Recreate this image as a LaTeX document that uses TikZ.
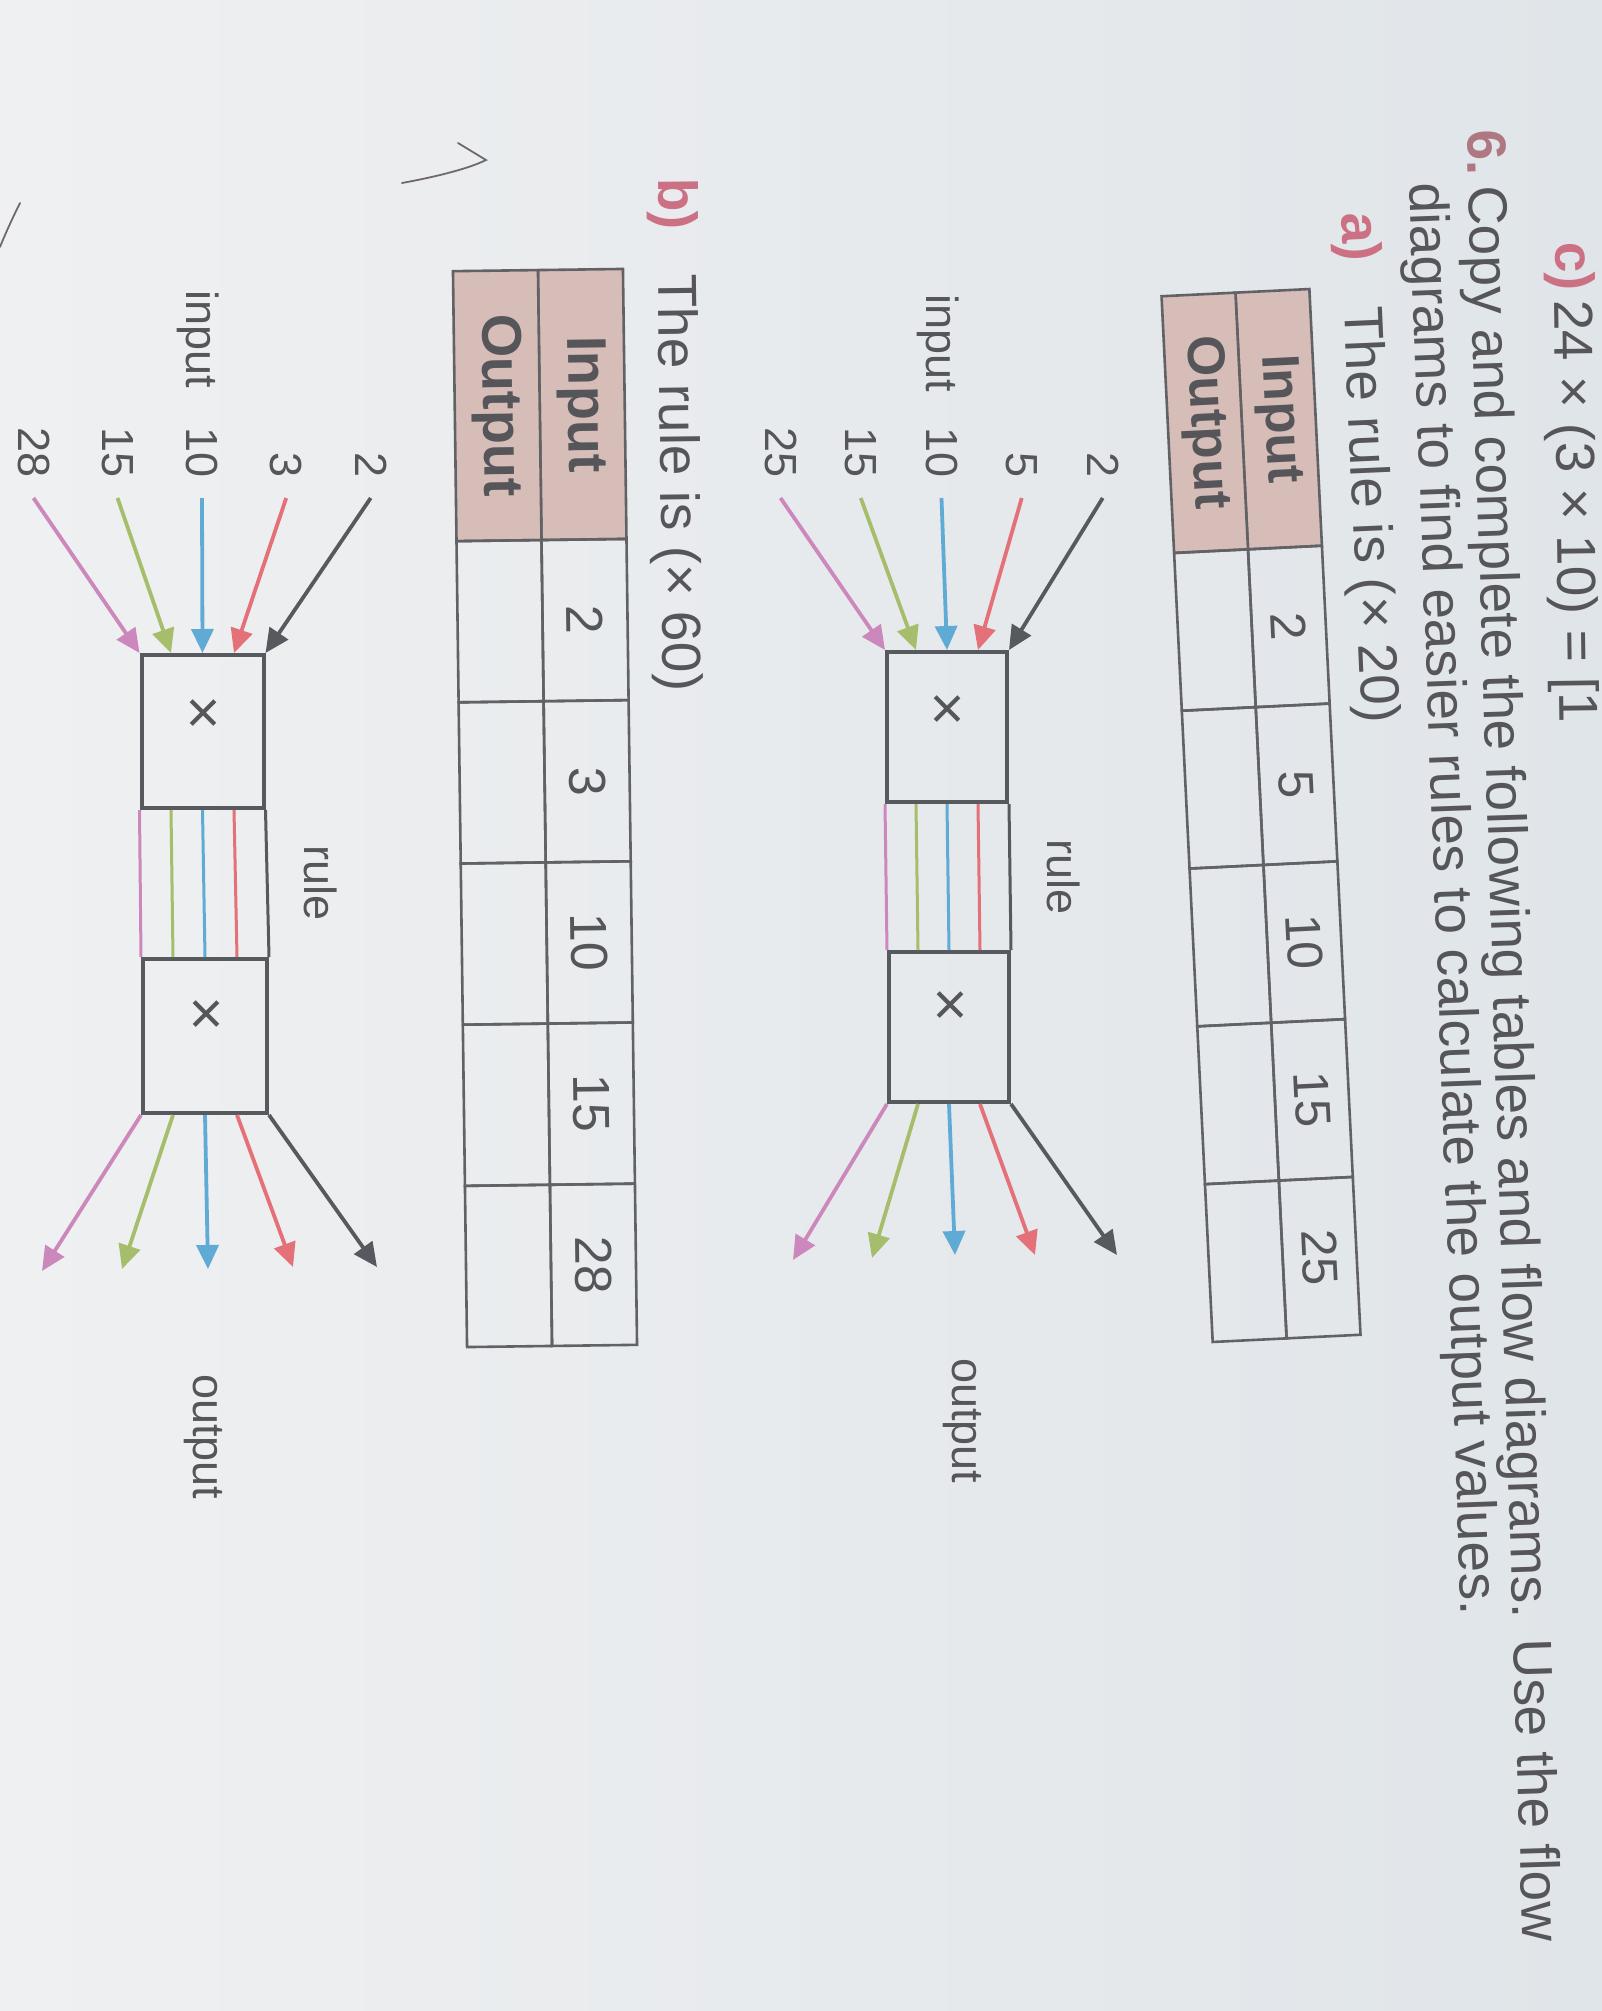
\documentclass[tikz,border=0pt]{standalone}
\usepackage{fontspec}
\setmainfont{Liberation Sans}
\usetikzlibrary{arrows.meta,positioning,calc}

\definecolor{paperL}{RGB}{239,240,241}
\definecolor{paperR}{RGB}{224,229,233}
\definecolor{ink}{RGB}{86,86,90}
\definecolor{partc}{RGB}{204,112,132}
\definecolor{numc}{RGB}{174,120,130}
\definecolor{headc}{RGB}{214,189,184}
\definecolor{linec}{RGB}{98,98,102}
\definecolor{greyc}{RGB}{86,89,94}
\definecolor{redc}{RGB}{228,112,120}
\definecolor{bluec}{RGB}{96,170,214}
\definecolor{greenc}{RGB}{166,190,108}
\definecolor{pinkc}{RGB}{204,136,188}
\definecolor{penc}{RGB}{112,104,112}

\tikzset{
  body/.style = {text=ink, inner sep=0pt, anchor=base west, font=\fontsize{55}{66}\selectfont},
  part/.style = {body, text=partc, font=\fontsize{55}{66}\selectfont\bfseries},
  hcell/.style = {draw=linec, line width=2.6pt, fill=headc, inner sep=0pt, outer sep=0pt, text=ink},
  ncell/.style = {draw=linec, line width=2.6pt, inner sep=0pt, outer sep=0pt, text=ink},
  num/.style = {text=ink, anchor=base east, inner xsep=20pt, inner ysep=0pt, font=\fontsize{45}{54}\selectfont},
  lbl/.style = {text=ink, inner sep=0pt, font=\fontsize{45}{54}\selectfont},
  sign/.style = {text=ink, inner sep=0pt, font=\fontsize{60}{70}\selectfont},
  fbox/.style = {draw=greyc, line width=4pt, inner sep=0pt, minimum width=150pt, minimum height=120pt},
  flow/.style = {line width=3.8pt, -{Triangle[length=24pt, width=22pt]}},
  rulel/.style = {line width=3pt},
  pen/.style = {draw=penc, line width=1.8pt, line cap=round}
}

\begin{document}
\begin{tikzpicture}[x=1pt, y=1pt]
\useasboundingbox (0,0) rectangle (1602,-2011);
\clip (0,0) rectangle (1602,-2011);
\shade[left color=paperL, right color=paperR] (0,0) rectangle (1602,-2011);

% the page lies turned a quarter turn clockwise
\begin{scope}[rotate=-90, transform shape]

% question text
\node[part, text=numc, rotate=1.8] (q6) at (130,1467) {6.};
\node[body, rotate=1.8] (q6-l1) at (186,1468) {Copy and complete the following tables and flow diagrams. Use the flow};
\node[body, rotate=2.1] (q6-l2) at (183,1409) {diagrams to find easier rules to calculate the output values.};
\node[part, rotate=0.8] (qc) at (242,1555) {c)};
\node[body, rotate=0.8] (qc-l) at (300,1554) {24 × (3 × 10) = [1};
\node[part, rotate=2.5] (qa) at (213,1341) {a)};
\node[body, rotate=2.5] (qa-l) at (307,1344) {The rule is (× 20)};
\node[part, rotate=0.75] (qb) at (178,658) {b)};
\node[body, rotate=0.75] (qb-l) at (274,658) {The rule is (× 60)};

% pen marks
\draw[pen] (183,402) .. controls (176,440) and (168,470) .. (160,486) -- (143,458);
\draw[pen] (247,0) .. controls (232,6) and (215,14) .. (203,20);

% table a
\begin{scope}[rotate around={2.8:(815,1261)}]
  \node[hcell, minimum width=257pt, minimum height=74pt, font=\fontsize{53}{64}\selectfont\bfseries] (ta-in) at (420.5,1298) {Input};
  \node[hcell, minimum width=257pt, minimum height=74pt, font=\fontsize{53}{64}\selectfont\bfseries] (ta-out) at (420.5,1224) {Output};
  \foreach \v [count=\i] in {2,5,10,15,25} {
    \node[ncell, minimum width=158pt, minimum height=74pt, font=\fontsize{50}{60}\selectfont] (ta-in-\i) at ({470+158*\i},1298) {\v};
    \node[ncell, minimum width=158pt, minimum height=74pt] (ta-out-\i) at ({470+158*\i},1224) {};
  }
\end{scope}

% table b
\begin{scope}[rotate around={0.75:(808,545)}]
  \node[hcell, minimum width=270pt, minimum height=85pt, font=\fontsize{56}{66}\selectfont\bfseries] (tb-in) at (405,587.5) {Input};
  \node[hcell, minimum width=270pt, minimum height=85pt, font=\fontsize{56}{66}\selectfont\bfseries] (tb-out) at (405,502.5) {Output};
  \foreach \v [count=\i] in {2,3,10,15,28} {
    \node[ncell, minimum width=161.2pt, minimum height=85pt, font=\fontsize{52}{62}\selectfont] (tb-in-\i) at ({459.4+161.2*\i},587.5) {\v};
    \node[ncell, minimum width=161.2pt, minimum height=85pt] (tb-out-\i) at ({459.4+161.2*\i},502.5) {};
  }
\end{scope}

% flow diagram a
\node[fbox] (a1) at (727,947) {};
\node[fbox] (a2) at (1027,949) {};
\node[sign] (a1x) at (709,944) {×};
\node[sign] (a2x) at (1005,947) {×};
\foreach \v/\c/\k/\ta/\tb [evaluate=\k as \f using \k/4] in {25/pinkc/0/1260/793, 15/greenc/1/1258/872, 10/bluec/2/1255/955, 5/redc/3/1255/1035, 2/greyc/4/1255/1117} {
  \node[num] (a-\v) at (498,{765+80.5*\k}) {\v};
  \coordinate (ao-\k) at (\ta,\tb);
  \draw[flow, \c] (a-\v.east) -- ($(a1.south west)!\f!(a1.north west)$);
  \draw[rulel, \c] ($(a1.south east)!\f!(a1.north east)$) -- ($(a2.south west)!\f!(a2.north west)$);
  \draw[flow, \c] ($(a2.south east)!\f!(a2.north east)$) -- (ao-\k);
}
\node[lbl, base left=15pt of a-10] (a-input) {input};
\node[lbl, anchor=base] (a-rule) at ($(a1.north east)!0.5!(a2.north west)+(0,37)$) {rule};
\node[lbl, anchor=base west] (a-output) at (1358,952) {output};

% flow diagram b
\node[fbox, minimum width=153pt, minimum height=122pt] (b1) at (731.5,202.5) {};
\node[fbox, minimum width=154pt, minimum height=124pt] (b2) at (1036,205) {};
\node[sign] (b1x) at (713,200) {×};
\node[sign] (b2x) at (1014,203) {×};
\foreach \v/\c/\k/\ta/\tb [evaluate=\k as \f using \k/4] in {28/pinkc/0/1271/42, 15/greenc/1/1269/122, 10/bluec/2/1269/208, 3/redc/3/1267/293, 2/greyc/4/1267/377} {
  \node[num] (b-\v) at (498,{18+84.25*\k}) {\v};
  \coordinate (bo-\k) at (\ta,\tb);
  \draw[flow, \c] (b-\v.east) -- ($(b1.south west)!\f!(b1.north west)$);
  \draw[rulel, \c] ($(b1.south east)!\f!(b1.north east)$) -- ($(b2.south west)!\f!(b2.north west)$);
  \draw[flow, \c] ($(b2.south east)!\f!(b2.north east)$) -- (bo-\k);
}
\node[lbl, base left=19pt of b-10] (b-input) {input};
\node[lbl, anchor=base] (b-rule) at ($(b1.north east)!0.5!(b2.north west)+(0,37)$) {rule};
\node[lbl, anchor=base west] (b-output) at (1374,193) {output};

\end{scope}
\end{tikzpicture}
\end{document}
